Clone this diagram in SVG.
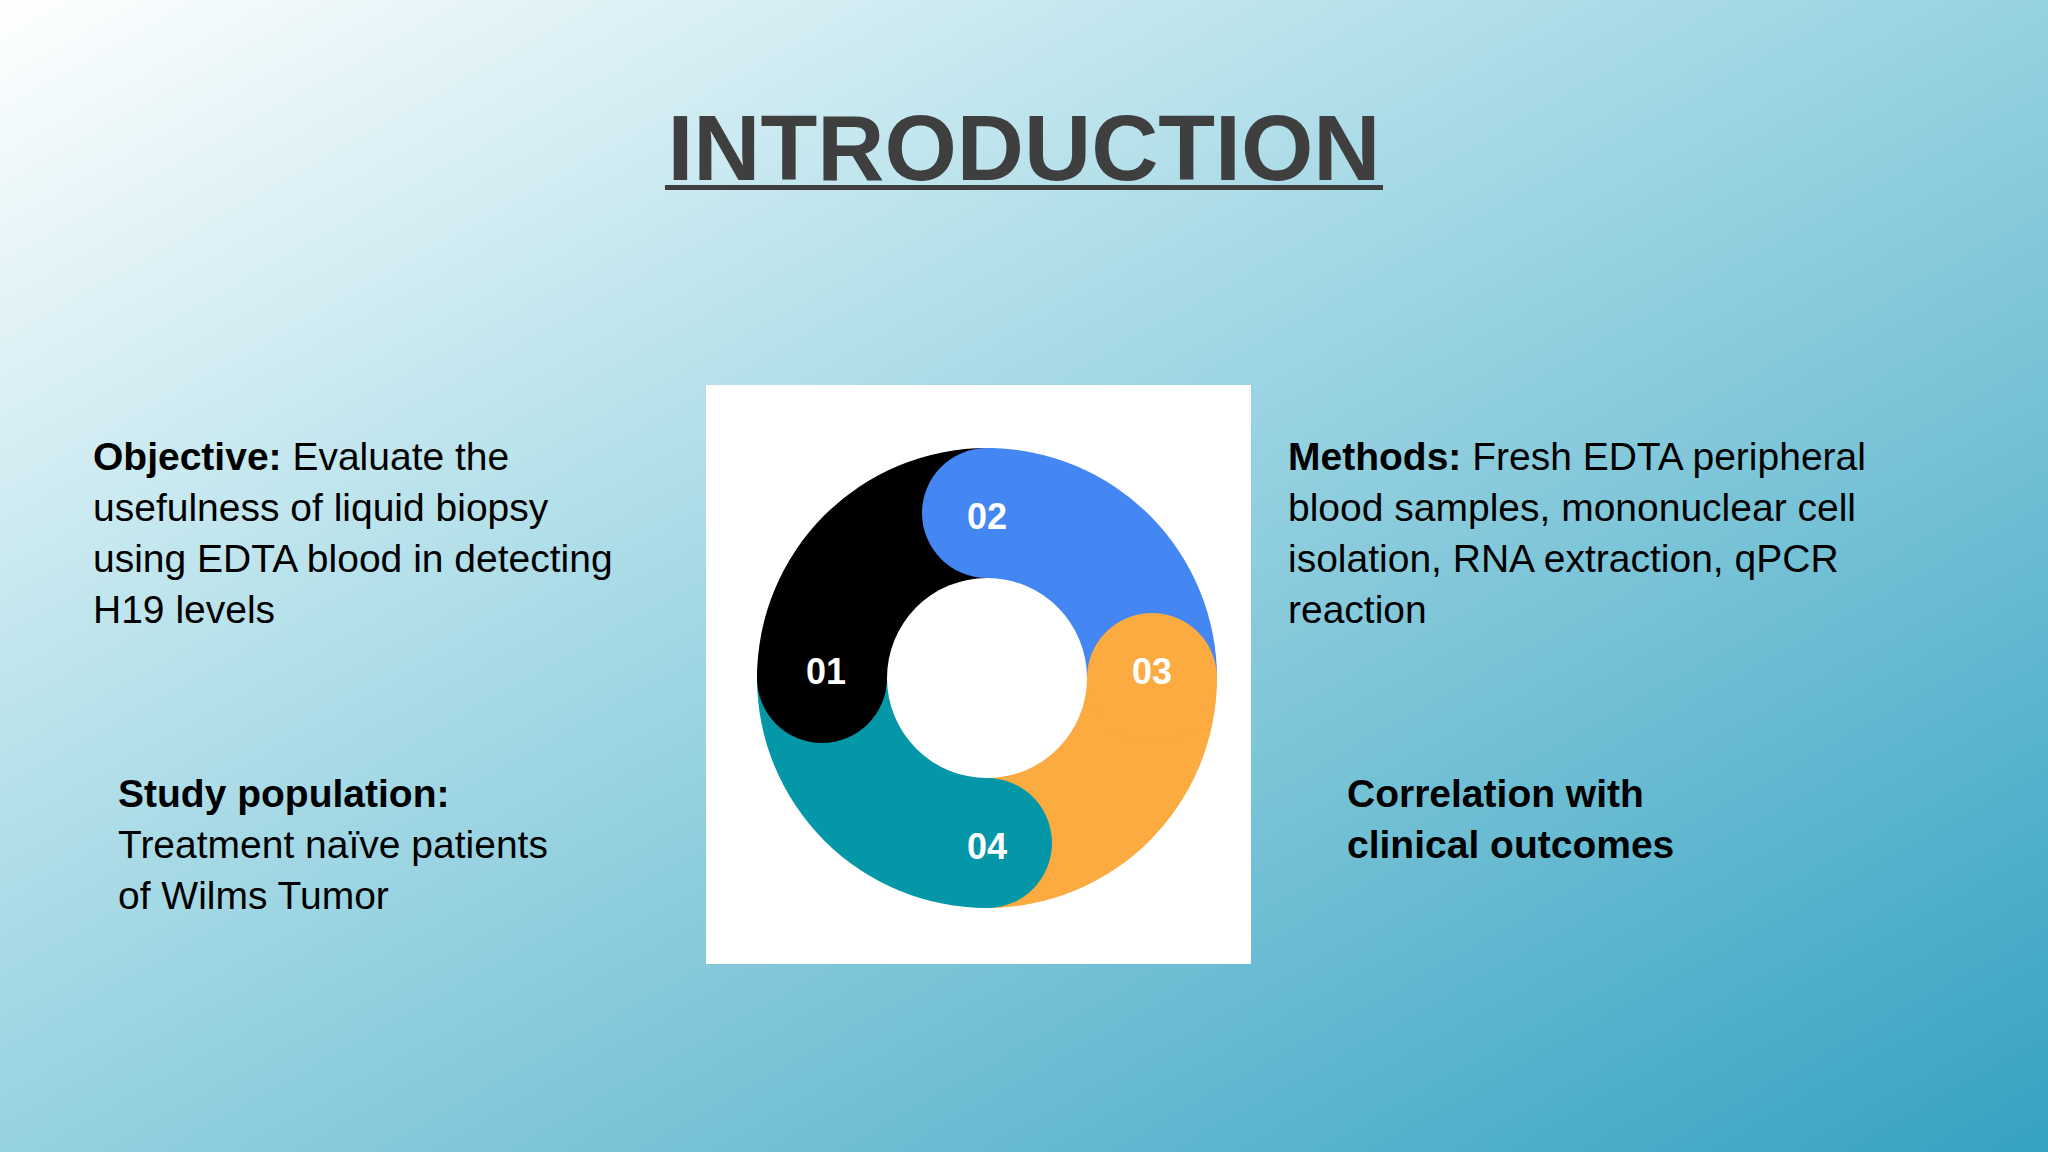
<svg xmlns="http://www.w3.org/2000/svg" width="2048" height="1152" viewBox="0 0 2048 1152">
<defs>
<linearGradient id="bg" x1="0" y1="0" x2="1" y2="1">
<stop offset="0" stop-color="#ffffff"/>
<stop offset="0.35" stop-color="#b4e0ea"/>
<stop offset="1" stop-color="#35a2c1"/>
</linearGradient>
<style>
.t{font-family:"Liberation Sans",Arial,sans-serif;font-size:39px;fill:#000}
.b{font-weight:bold}
.n{font-family:"Liberation Sans",Arial,sans-serif;font-size:36px;font-weight:bold;fill:#fff;text-anchor:middle}
</style>
</defs>
<rect width="2048" height="1152" fill="url(#bg)"/>
<g id="title">
<text x="1024" y="180" text-anchor="middle" font-family="Liberation Sans, Arial, sans-serif" font-weight="bold" font-size="93" fill="#3f3f3f">INTRODUCTION</text>
<rect x="665" y="185" width="718" height="5" fill="#3f3f3f"/>
</g>
<g id="cycle">
<rect x="706" y="385" width="545" height="579" fill="#fff"/>
<path d="M987 448A230 230 0 0 1 1217 678L1087 678A100 100 0 0 0 987 578Z" fill="#4587f2"/>
<path d="M1217 678A230 230 0 0 1 987 908L987 778A100 100 0 0 0 1087 678Z" fill="#fbab40"/>
<path d="M987 908A230 230 0 0 1 757 678L887 678A100 100 0 0 0 987 778Z" fill="#0397a7"/>
<path d="M757 678A230 230 0 0 1 987 448L987 578A100 100 0 0 0 887 678Z" fill="#000"/>
<circle cx="987" cy="513" r="65" fill="#4587f2"/>
<circle cx="1152" cy="678" r="65" fill="#fbab40"/>
<circle cx="987" cy="843" r="65" fill="#0397a7"/>
<circle cx="822" cy="678" r="65" fill="#000"/>
<text class="n" x="987" y="529">02</text>
<text class="n" x="1152" y="684">03</text>
<text class="n" x="987" y="859">04</text>
<text class="n" x="826" y="684">01</text>
</g>
<g id="objective">
<text class="t" x="93" y="470"><tspan class="b">Objective:</tspan> Evaluate the</text>
<text class="t" x="93" y="521">usefulness of liquid biopsy</text>
<text class="t" x="93" y="572">using EDTA blood in detecting</text>
<text class="t" x="93" y="623">H19 levels</text>
</g>
<g id="methods">
<text class="t" x="1288" y="470"><tspan class="b">Methods:</tspan> Fresh EDTA peripheral</text>
<text class="t" x="1288" y="521">blood samples, mononuclear cell</text>
<text class="t" x="1288" y="572">isolation, RNA extraction, qPCR</text>
<text class="t" x="1288" y="623">reaction</text>
</g>
<g id="population">
<text class="t b" x="118" y="807">Study population:</text>
<text class="t" x="118" y="858">Treatment naïve patients</text>
<text class="t" x="118" y="909">of Wilms Tumor</text>
</g>
<g id="correlation">
<text class="t b" x="1347" y="807">Correlation with</text>
<text class="t b" x="1347" y="858">clinical outcomes</text>
</g>
<g id="connectors"/>
</svg>
